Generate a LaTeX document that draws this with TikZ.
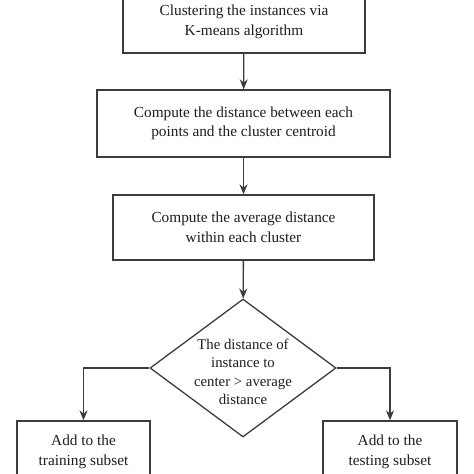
\documentclass[tikz,border=0pt]{standalone}
\usepackage{fontspec}
\setmainfont{Liberation Serif}
\usepackage{tikz}
\usetikzlibrary{arrows.meta, positioning, shapes.geometric}
\definecolor{linegray}{HTML}{3C3C3C}
\definecolor{textgray}{HTML}{1E1E1E}

\begin{document}
\begin{tikzpicture}[
  x=1pt, y=-1pt,
  process/.style={
    draw=linegray, line width=1.3pt, rectangle, inner sep=0pt,
    font=\fontsize{15.3}{19.5}\selectfont, text=textgray, align=center
  },
  decision/.style={
    draw=linegray, line width=1.3pt, diamond, aspect=1.35, inner sep=0pt,
    minimum width=186pt, minimum height=138pt
  },
  decisiontext/.style={
    inner sep=0pt, font=\fontsize{14.8}{18.5}\selectfont, text=textgray, align=center
  },
  flow/.style={draw=linegray, line width=1.3pt, -{Stealth[length=10pt, width=8pt]}}
]
\clip (0,0) rectangle (474,474);
\fill[white] (0,0) rectangle (474,474);

% Process boxes
\node[process, minimum width=242pt, minimum height=62pt] (cluster) at (244,22)
  {Clustering the instances via\\K-means algorithm};
\node[process, minimum width=293pt, minimum height=67pt] (dist) at (243.5,123.5)
  {Compute the distance between each\\points and the cluster centroid};
\node[process, minimum width=261pt, minimum height=65pt] (avg) at (243.5,227.5)
  {Compute the average distance\\within each cluster};

% Decision
\node[decision] (check) at (243,368) {};
\node[decisiontext] (checklabel) at (243,372)
  {The distance of\\instance to\\center > average\\distance};

% Subsets
\node[process, minimum width=133pt, minimum height=62pt] (train) at (83.5,452)
  {Add to the\\training subset};
\node[process, minimum width=134pt, minimum height=62pt] (test) at (390,452)
  {Add to the\\testing subset};

% Connectors
\draw[flow] (cluster) -- (dist);
\draw[flow] (dist) -- (avg);
\draw[flow] (avg) -- (check);
\draw[flow] (check.west) -| (train.north);
\draw[flow] (check.east) -| (test.north);

\end{tikzpicture}
\end{document}
